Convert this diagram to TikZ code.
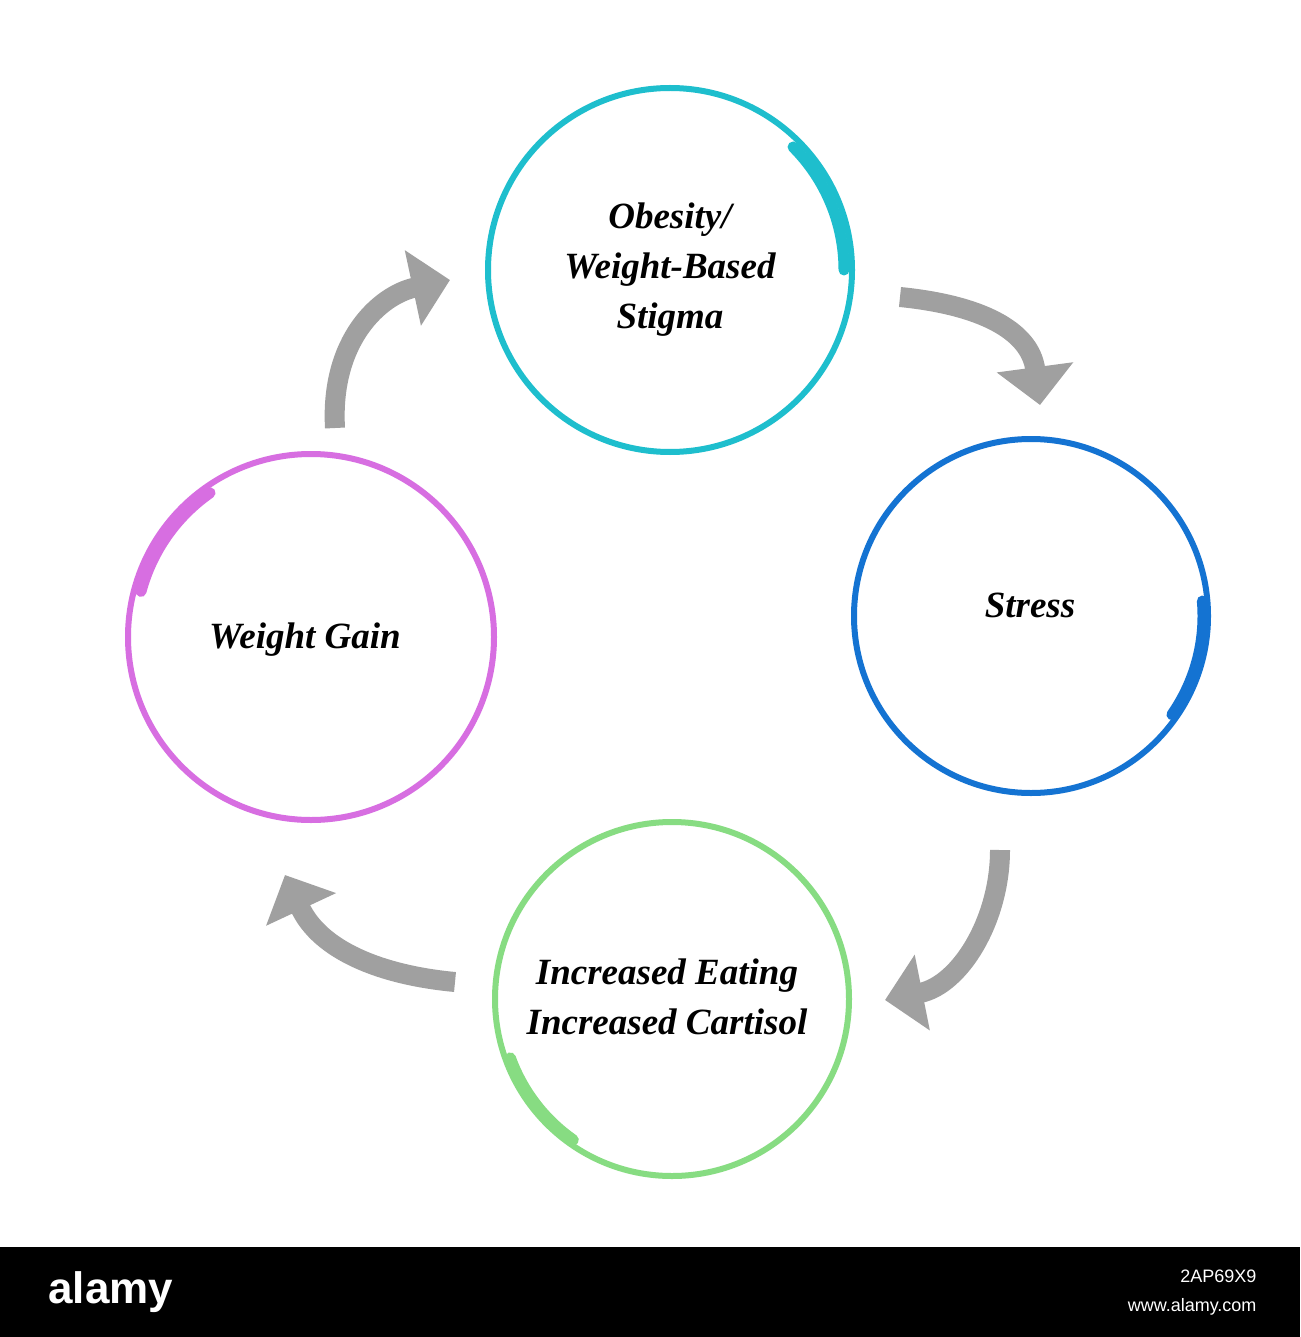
\documentclass[tikz,border=0pt]{standalone}
\usepackage{fontspec}
\setmainfont{Liberation Serif}
\newfontfamily\sansf{Liberation Sans}
\usetikzlibrary{arrows.meta}
\definecolor{cteal}{RGB}{30,190,205}
\definecolor{cblue}{RGB}{20,115,210}
\definecolor{cgreen}{RGB}{135,220,130}
\definecolor{cpink}{RGB}{215,110,225}
\definecolor{carrow}{RGB}{160,160,160}
\tikzset{
 ring/.style={draw=#1,line width=6pt,circle},
 lbl/.style={font=\fontsize{37}{50}\selectfont\bfseries\itshape,align=center},
 garrow/.style={draw=carrow,line width=20pt,-{Triangle[length=38pt,width=75pt]}}
}
\begin{document}
\begin{tikzpicture}[x=1pt,y=-1pt]
\useasboundingbox (0,0) rectangle (1300,1337);
\fill[white] (0,0) rectangle (1300,1337);
\node[ring=cteal,minimum size=364pt] (top) at (670,270) {};
\node[ring=cblue,minimum size=354pt] (stress) at (1031,616) {};
\node[ring=cgreen,minimum size=354pt] (bot) at (672,999) {};
\node[ring=cpink,minimum size=366pt] (left) at (311,637) {};
\draw[cteal,line width=11pt,line cap=round] (top.center) ++(-45:174) arc[start angle=-45,end angle=0,radius=174];
\draw[cblue,line width=11pt,line cap=round] (stress.center) ++(-5:172) arc[start angle=-5,end angle=35,radius=172];
\draw[cgreen,line width=11pt,line cap=round] (bot.center) ++(125:172) arc[start angle=125,end angle=160,radius=172];
\draw[cpink,line width=11pt,line cap=round] (left.center) ++(195:176) arc[start angle=195,end angle=235,radius=176];
\node[lbl] (tl) at (top) {Obesity/\\Weight-Based\\Stigma};
\node[lbl] (sl) at (1030,605) {Stress};
\node[lbl] (bl) at (667,997) {Increased Eating\\Increased Cartisol};
\node[lbl] (ll) at (305,640) {Weight Gain};
\coordinate (a1s) at (900,297); \coordinate (a1e) at (1040,405);
\coordinate (a2s) at (1000,850); \coordinate (a2e) at (885,1000);
\coordinate (a3s) at (455,982); \coordinate (a3e) at (285,875);
\coordinate (a4s) at (335,428); \coordinate (a4e) at (450,280);
\draw[garrow] (a1s) .. controls (980,305) and (1030,330) .. (a1e);
\draw[garrow] (a2s) .. controls (1000,920) and (960,985) .. (a2e);
\draw[garrow] (a3s) .. controls (380,975) and (320,950) .. (a3e);
\draw[garrow] (a4s) .. controls (330,340) and (380,295) .. (a4e);
\fill[black] (0,1247) rectangle (1300,1337);
\node[white,font=\sansf\fontsize{44}{44}\selectfont\bfseries,anchor=west] (brand) at (45,1292) {alamy};
\node[white,font=\sansf\fontsize{18}{18}\selectfont,anchor=east] (id) at (1260,1276) {2AP69X9};
\node[white,font=\sansf\fontsize{18}{18}\selectfont,anchor=east] (url) at (1260,1307) {www.alamy.com};
\end{tikzpicture}
\end{document}
